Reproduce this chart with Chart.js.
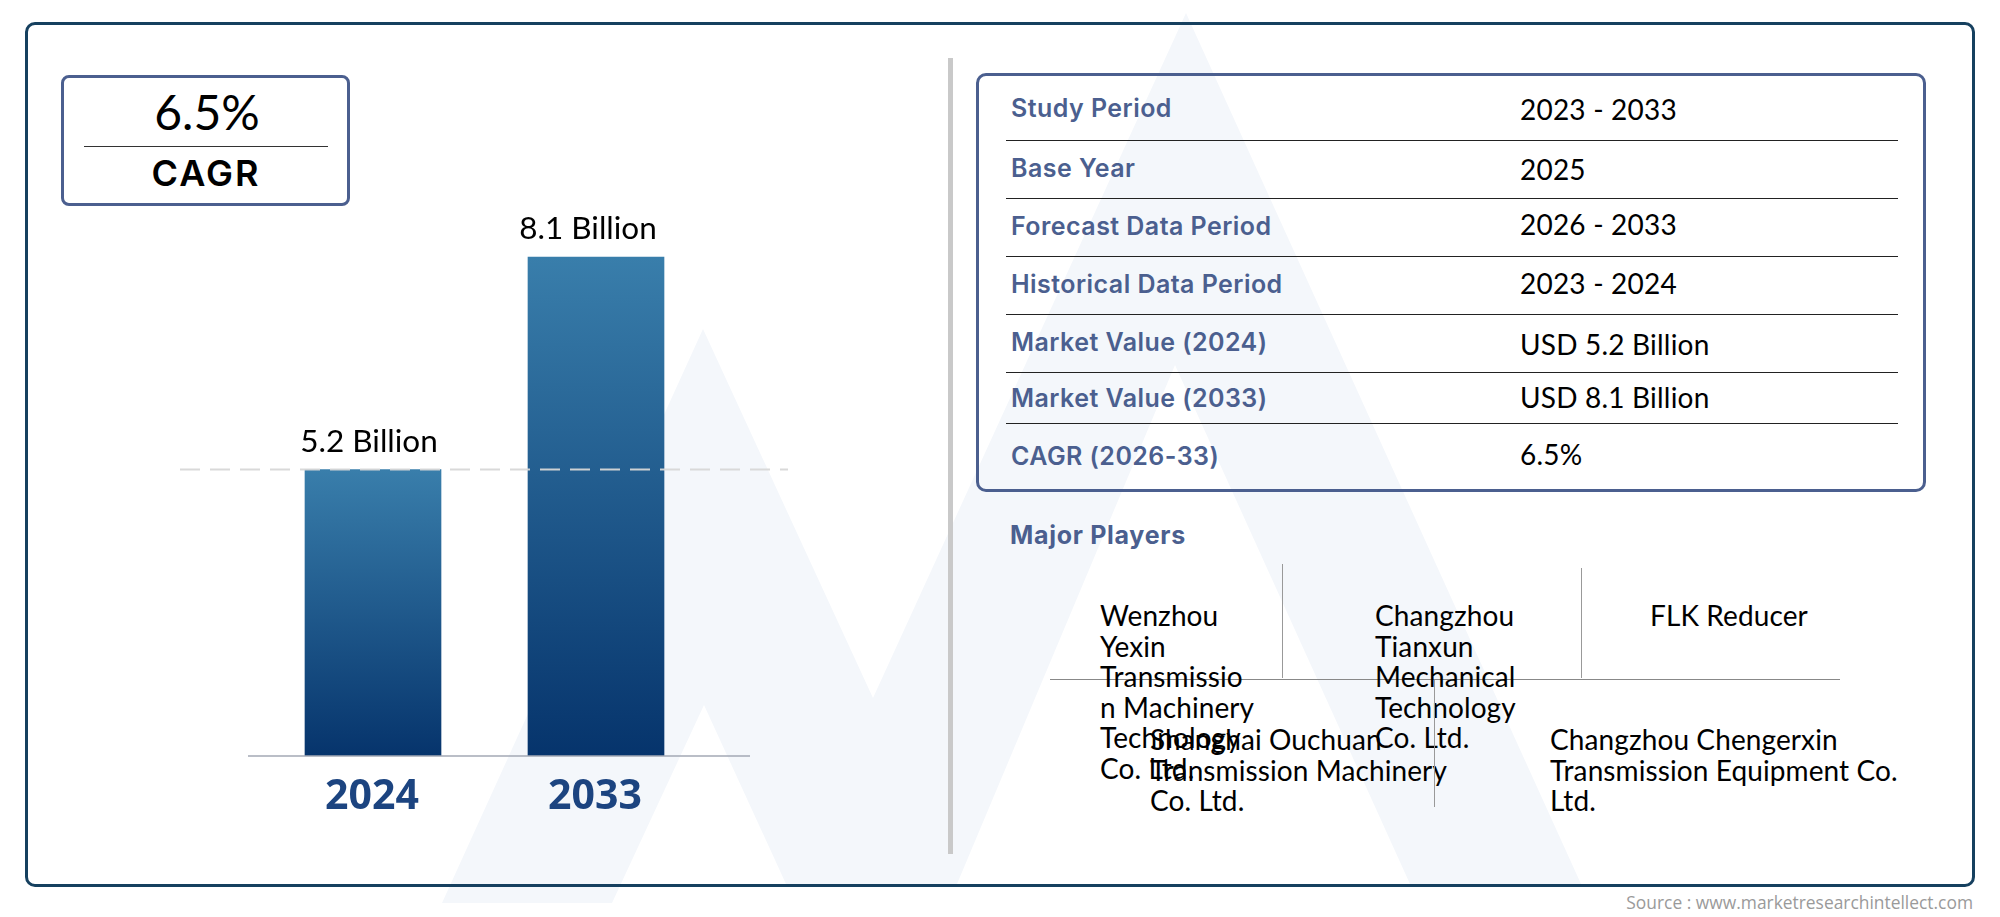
<!DOCTYPE html>
<html>
<head>
<meta charset="utf-8">
<script src="https://cdn.jsdelivr.net/npm/chart.js@4/dist/chart.umd.min.js"></script>
<style>
  html, body { margin: 0; padding: 0; background: #fff; }
  body { position: relative; width: 2000px; height: 917px; overflow: hidden; font-family: 'Open Sans', sans-serif; color: #000; }
  #mark { position: absolute; left: 0; top: 0; }
  .abs { position: absolute; }
  #frame { left: 25px; top: 22px; width: 1944px; height: 859px; border: 3px solid #16405f; border-radius: 10px; }
  #divider { left: 948px; top: 58px; width: 5px; height: 796px; background: #c9c9c9; }
  #cagrBox { left: 61px; top: 75px; width: 283px; height: 125px; border: 3px solid #4b5f8f; border-radius: 8px; }
  #cagrVal { left: 61px; top: 83px; width: 292px; text-align: center; font: 400 48px 'Lato', sans-serif; }
  #cagrLine { left: 84px; top: 146px; width: 244px; height: 1px; background: #333; }
  #cagrTxt { left: 61px; top: 151px; width: 290px; text-align: center; font: 600 36px 'Inter', sans-serif; letter-spacing: 2px; }
  #tableBox { left: 976px; top: 73px; width: 944px; height: 413px; border: 3.5px solid #4b5f8f; border-radius: 10px; }
  .rowLine { position: absolute; left: 1006px; width: 892px; height: 1px; background: #222; }
  .rowKey { position: absolute; left: 1011px; font: 600 25px 'Inter', sans-serif; color: #4b5f8f; white-space: nowrap; letter-spacing: 0.45px; }
  .rowVal { position: absolute; left: 1520px; font: 400 28px 'Lato', sans-serif; white-space: nowrap; letter-spacing: 0.2px; }
  #playersTitle { left: 1010px; top: 520px; font: 700 25px 'Inter', sans-serif; color: #4b5f8f; letter-spacing: 0.7px; }
  .player { position: absolute; font: 400 28px/30.5px 'Lato', sans-serif; letter-spacing: 0.1px; }
  .vline { position: absolute; width: 1px; background: #999; }
  #hline { left: 1050px; top: 679px; width: 790px; height: 1px; background: #888; }
  #source { right: 27px; top: 890px; font: 400 17.4px 'Open Sans', sans-serif; color: #9a9a9a; }
  #chartWrap { position: absolute; left: 180px; top: 200px; width: 620px; height: 640px; }
</style>
</head>
<body>
<svg id="mark" width="2000" height="917">
  <polygon fill="#f4f7fb" points="703,329 442,903 612,903 704,705 786,884 957,884 1175,365 1410,884 1581,884 1186,13 873,698"/>
</svg>
<div class="abs" id="frame"></div>
<div class="abs" id="divider"></div>
<div class="abs" id="cagrBox"></div>
<div class="abs" id="cagrVal">6.5%</div>
<div class="abs" id="cagrLine"></div>
<div class="abs" id="cagrTxt">CAGR</div>
<div class="abs" id="tableBox"></div>
<div class="abs" id="playersTitle">Major Players</div>
<div class="abs" id="hline"></div>
<div class="abs" id="source">Source : www.marketresearchintellect.com</div>
<div id="chartWrap"><canvas id="marketChart"></canvas></div>
<script>
// chart values
const years = ['2024', '2033'];
const marketValues = [5.2, 8.1];
const valueLabels = ['5.2 Billion', '8.1 Billion'];

// summary table
const rowKeys = ['Study Period', 'Base Year', 'Forecast Data Period', 'Historical Data Period', 'Market Value (2024)', 'Market Value (2033)', 'CAGR (2026-33)'];
const rowVals = ['2023 - 2033', '2025', '2026 - 2033', '2023 - 2024', 'USD 5.2 Billion', 'USD 8.1 Billion', '6.5%'];
const rowKeyTops = [93, 153, 211, 269, 327, 383, 441];
const rowValTops = [92, 152, 207, 266, 327, 380, 437];
const rowLineTops = [140, 198, 256, 314, 372, 423];

const playerNames = ['Wenzhou\nYexin\nTransmissio\nn Machinery\nTechnology\nCo. Ltd.', 'Changzhou\nTianxun\nMechanical\nTechnology\nCo. Ltd.', 'FLK Reducer', 'Shanghai Ouchuan\nTransmission Machinery\nCo. Ltd.', 'Changzhou Chengerxin\nTransmission Equipment Co.\nLtd.'];
const playerLefts = [1100, 1375, 1650, 1150, 1550];
const playerTops = [600, 600, 600, 724, 724];
const dividers = [[1282, 564, 114], [1581, 568, 110], [1434, 680, 127]];

rowKeys.forEach((k, i) => {
    let el = document.createElement('div');
    el.className = 'rowKey';
    el.style.top = rowKeyTops[i] + 'px';
    el.textContent = k;
    document.body.appendChild(el);
    let v = document.createElement('div');
    v.className = 'rowVal';
    v.style.top = rowValTops[i] + 'px';
    v.textContent = rowVals[i];
    document.body.appendChild(v);
});
rowLineTops.forEach(t => {
    let el = document.createElement('div');
    el.className = 'rowLine';
    el.style.top = t + 'px';
    document.body.appendChild(el);
});
playerNames.forEach((n, i) => {
    let el = document.createElement('div');
    el.className = 'player';
    el.style.left = playerLefts[i] + 'px';
    el.style.top = playerTops[i] + 'px';
    el.innerHTML = n.split('\n').join('<br>');
    document.body.appendChild(el);
});
dividers.forEach(d => {
    let el = document.createElement('div');
    el.className = 'vline';
    el.style.left = d[0] + 'px';
    el.style.top = d[1] + 'px';
    el.style.height = d[2] + 'px';
    document.body.appendChild(el);
});

// baseline, dashed line through the top of the first bar, labels above bars
const labelShift = [-4, -8];
const overlay = {
    id: 'overlay',
    afterDatasetsDraw(chart) {
        const c = chart.ctx;
        const y = chart.scales.y.getPixelForValue(marketValues[0]);
        const base = chart.scales.y.bottom;
        c.save();
        c.strokeStyle = '#a3a9b4';
        c.lineWidth = 1.5;
        c.beginPath();
        c.moveTo(68, base);
        c.lineTo(570, base);
        c.stroke();
        c.strokeStyle = 'rgba(215,215,215,0.95)';
        c.lineWidth = 2;
        c.setLineDash([20, 10]);
        c.beginPath();
        c.moveTo(0, y);
        c.lineTo(608, y);
        c.stroke();
        c.setLineDash([]);
        c.fillStyle = '#000';
        c.font = '400 31.5px Lato';
        c.textAlign = 'center';
        chart.getDatasetMeta(0).data.forEach((bar, i) => {
            c.fillText(valueLabels[i], bar.x + labelShift[i], bar.y - 18);
        });
        c.restore();
    }
};

let ctx = document.getElementById('marketChart').getContext('2d');
let marketChart = new Chart(ctx, {
    type: 'bar',
    data: {
        labels: years,
        datasets: [{
            data: marketValues,
            barThickness: 136,
            backgroundColor(context) {
                const chart = context.chart;
                if (!chart.chartArea || context.raw === undefined) return '#08386e';
                const yScale = chart.scales.y;
                const g = chart.ctx.createLinearGradient(0, yScale.getPixelForValue(context.raw), 0, yScale.bottom);
                g.addColorStop(0, '#397eab');
                g.addColorStop(1, '#06346c');
                return g;
            }
        }]
    },
    options: {
        responsive: true,
        maintainAspectRatio: false,
        animation: false,
        layout: { padding: { left: 81.5, right: 92.5, top: 0, bottom: 0 } },
        plugins: { legend: { display: false }, tooltip: { enabled: false } },
        scales: {
            x: {
                grid: { display: false },
                border: { display: false },
                afterFit(scale) { scale.height = 84; },
                ticks: { color: '#1c4480', font: { family: 'Open Sans', size: 41, weight: '700' }, padding: 9, labelOffset: -1 }
            },
            y: {
                display: false,
                min: 1.29,
                max: 8.88
            }
        }
    },
    plugins: [overlay]
});
</script>
</body>
</html>
